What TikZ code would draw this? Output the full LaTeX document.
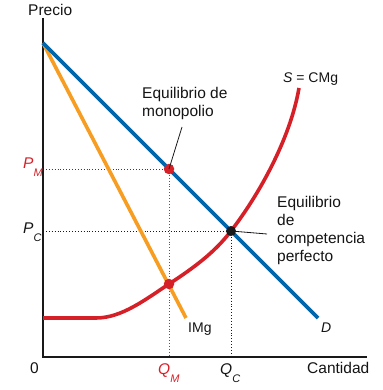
\documentclass[tikz,border=0pt]{standalone}
\usepackage{fontspec}
\setmainfont{Liberation Sans}
\usetikzlibrary{arrows.meta,positioning,calc}
\definecolor{dmdclr}{RGB}{0,103,172}
\definecolor{imgclr}{RGB}{247,157,33}
\definecolor{cmgclr}{RGB}{214,32,40}
\definecolor{axclr}{RGB}{25,25,25}
\definecolor{txtclr}{RGB}{20,20,20}
\tikzset{
  %% axes
  axis/.style={line width=1.3pt,color=axclr},
  %% curves
  dcurve/.style={line width=3.6pt,color=dmdclr},
  icurve/.style={line width=3.6pt,color=imgclr},
  scurve/.style={line width=3.6pt,color=cmgclr},
  %% guide lines
  guide/.style={dotted,line width=0.9pt,color=#1},
  guide/.default=axclr,
  %% equilibrium dots
  eqdot/.style={circle,fill=#1,inner sep=0pt,minimum size=10.5pt},
  %% labels
  lbl/.style={font=\fontsize{15.5}{18}\selectfont,text=txtclr,inner sep=0pt},
  note/.style={lbl,align=left,anchor=north west},
  leader/.style={line width=0.8pt,color=axclr},
}
\newcommand{\subidx}[1]{\raisebox{-8pt}{\fontsize{11}{11}\selectfont\itshape #1}}

\begin{document}
\begin{tikzpicture}[x=1pt,y=-1pt]
  \useasboundingbox (0,0) rectangle (382,390);
  %% key points
  \coordinate (orig) at (43,357);
  \coordinate (ytop) at (43,18);
  \coordinate (xend) at (367,357);
  \coordinate (top) at (43,43);
  \coordinate (dend) at (318,318);
  \coordinate (iend) at (186,318);
  \coordinate (eqM) at (169,169);
  \coordinate (eqI) at (169,284);
  \coordinate (eqC) at (231,231);
  \coordinate (pM) at (43,169);
  \coordinate (pC) at (43,231);
  \coordinate (qM) at (169,357);
  \coordinate (qC) at (231,357);
  \coordinate (sfoot) at (43,318);
  \coordinate (sbend) at (96,318);
  \coordinate (stop) at (299,88);

  %% guides
  \draw[guide=cmgclr!70!black] (pM) -- (eqM);
  \draw[guide] (pC) -- (eqC);
  \draw[guide=cmgclr] (eqM) -- (qM);
  \draw[guide] (eqC) -- (qC);

  %% axes
  \draw[axis] (ytop) -- (orig) -- (xend);

  %% curves
  \draw[icurve] (top) -- (iend);
  \draw[dcurve] (top) -- (dend);
  \draw[scurve] (sfoot) -- (sbend)
    .. controls (122,318) and (146,299) .. (eqI)
    .. controls (195,267) and (215,252) .. (eqC)
    .. controls (258,196) and (290,140) .. (stop);

  %% equilibria
  \node[eqdot=cmgclr] (mono) at (eqM) {};
  \node[eqdot=cmgclr] (imgpt) at (eqI) {};
  \node[eqdot=axclr,minimum size=10pt] (comp) at (eqC) {};

  %% labels
  \node[lbl,anchor=base west] (precio) at (28,15.5) {Precio};
  \node[lbl,anchor=base west] (cero) at (30,373) {0};
  \node[lbl,anchor=base west] (cant) at (307,373) {Cantidad};
  \node[lbl,anchor=base west,text=cmgclr] (qmlbl) at (158,374)
    {\itshape Q\subidx{M}};
  \node[lbl,anchor=base west] (qclbl) at (220,374)
    {\itshape Q\subidx{C}};
  \node[lbl,anchor=base west,text=cmgclr] (pmlbl) at (23,168)
    {\itshape P\subidx{M}};
  \node[lbl,anchor=base west] (pclbl) at (23,233)
    {\itshape P\subidx{C}};
  \node[lbl,anchor=base west,font=\fontsize{14}{16}\selectfont] (imglbl) at (188,332) {IMg};
  \node[lbl,anchor=base west,font=\fontsize{14}{16}\selectfont\itshape] (dlbl) at (321,332) {D};
  \node[lbl,anchor=base west,font=\fontsize{14}{16}\selectfont] (slbl) at (283,83)
    {\textit{S} = CMg};

  %% notes
  \node[note] (monotxt) at (142,87) {Equilibrio de\\monopolio};
  \node[note] (comptxt) at (277,196) {Equilibrio\\de\\competencia\\perfecto};
  \coordinate (monoend) at (182,127);
  \coordinate (compend) at (267,234);
  \draw[leader] (monoend) -- (mono.center);
  \draw[leader] (compend) -- (comp.center);
\end{tikzpicture}
\end{document}
